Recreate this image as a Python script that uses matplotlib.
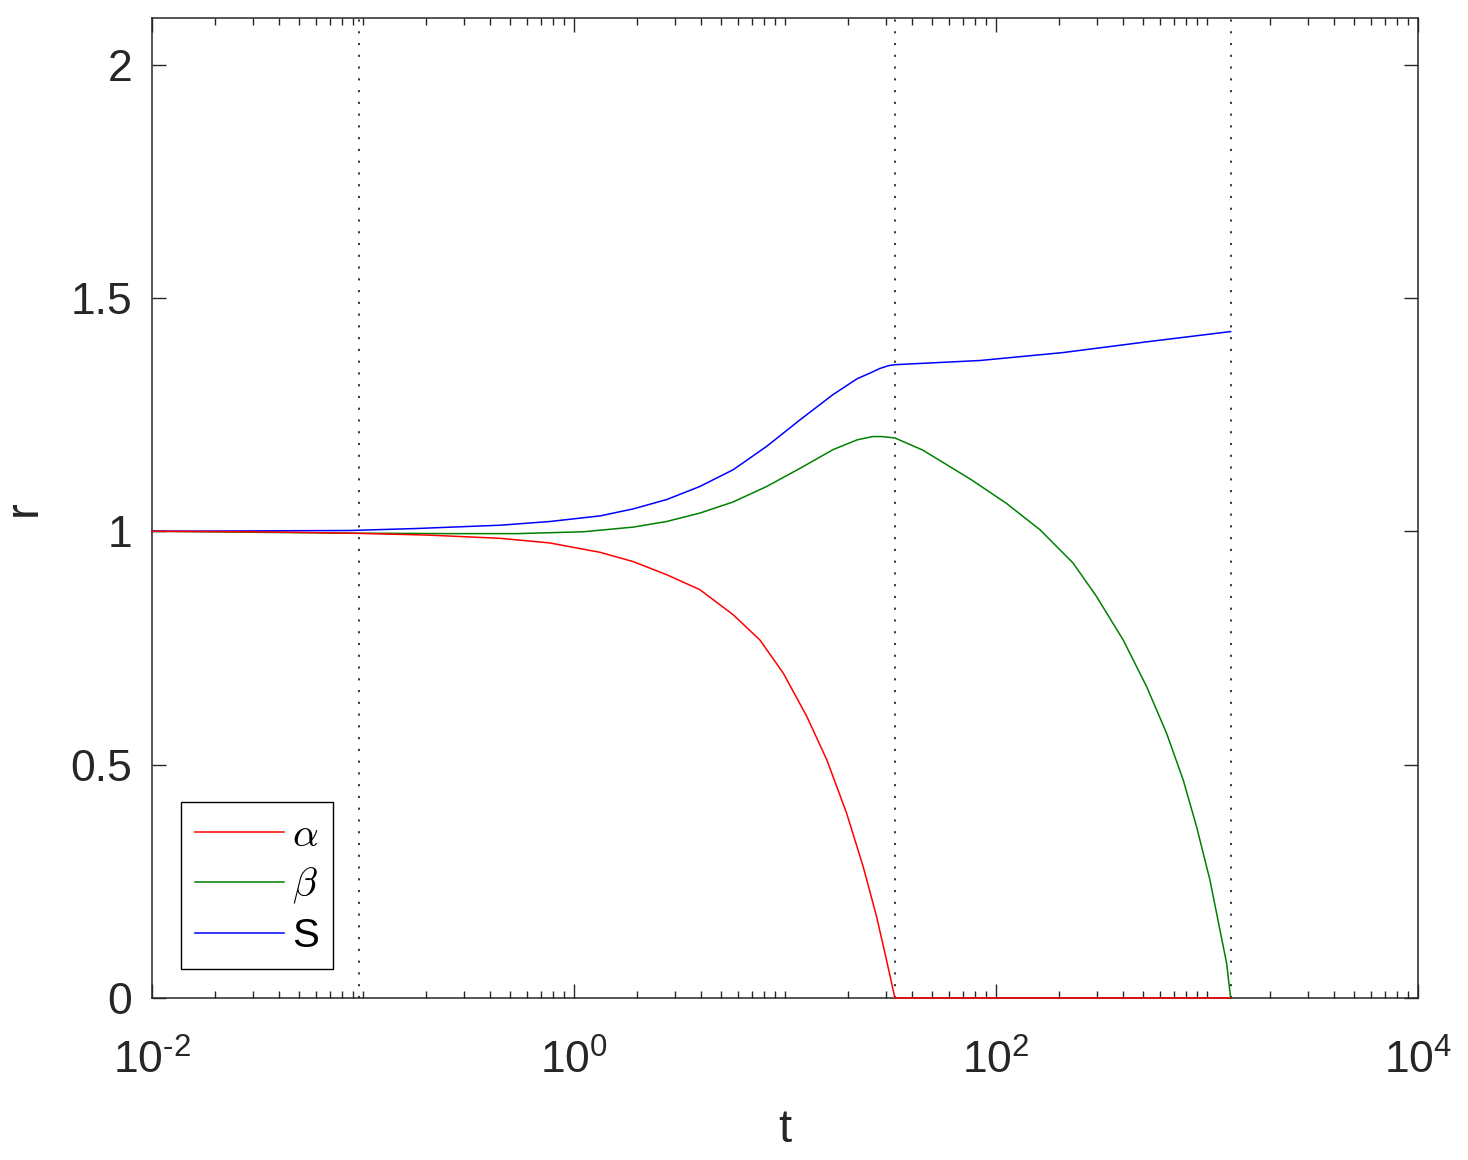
import math

import matplotlib
matplotlib.use("Agg")
import matplotlib.pyplot as plt
import numpy as np
from matplotlib.font_manager import FontProperties
from matplotlib.ticker import FixedLocator, LogLocator, FuncFormatter, NullFormatter

plt.rcParams["font.family"] = ["Liberation Sans", "DejaVu Sans"]
plt.rcParams["mathtext.fontset"] = "custom"
plt.rcParams["mathtext.rm"] = "Liberation Sans"
plt.rcParams["mathtext.it"] = "Liberation Sans:italic"

# values
t_alpha = [0.01, 0.03, 0.0868, 0.2, 0.446, 0.769, 1.19, 1.33, 1.91, 2.75, 3.95,
           5.69, 7.61, 9.82, 12.7, 15.8, 19.6, 23.5, 27.2, 30.3, 33.2, 1295]
r_alpha = [1.0, 0.999, 0.996, 0.992, 0.985, 0.975, 0.959, 0.955, 0.935, 0.907,
           0.875, 0.821, 0.767, 0.696, 0.603, 0.510, 0.396, 0.281, 0.174, 0.081,
           0.0, 0.0]

t_beta = [0.01, 0.0868, 0.258, 0.535, 1.11, 1.91, 2.75, 3.95, 5.69, 8.19, 11.8,
          16.9, 22.0, 26.0, 28.8, 33.2, 45, 58.3, 76.7, 112, 162, 232, 300, 401,
          518, 644, 772, 893, 1033, 1152, 1240, 1295]
r_beta = [1.0, 0.996, 0.995, 0.995, 0.999, 1.009, 1.021, 1.039, 1.063, 1.096,
          1.135, 1.175, 1.196, 1.203, 1.203, 1.200, 1.174, 1.143, 1.110, 1.060,
          1.003, 0.932, 0.860, 0.767, 0.667, 0.567, 0.467, 0.367, 0.253, 0.146,
          0.074, 0.0]

t_s = [0.01, 0.0868, 0.180, 0.446, 0.769, 1.33, 1.91, 2.75, 3.95, 5.69, 8.19,
       11.8, 16.9, 22.0, 25.3, 28.2, 31.0, 33.2, 84, 208, 518, 1295]
r_s = [1.0, 1.0017, 1.006, 1.013, 1.021, 1.033, 1.048, 1.068, 1.096, 1.132,
       1.182, 1.239, 1.293, 1.327, 1.339, 1.349, 1.355, 1.357, 1.366, 1.383,
       1.406, 1.428]

t_marks = [0.0955, 33.2, 1295]

x_major = [1e-2, 1e0, 1e2, 1e4]
y_ticks = [0, 0.5, 1, 1.5, 2]
labels = [r"$\alpha$", r"$\beta$", "S"]

dark = "#262626"


def pow_label(v, pos):
    e = int(round(math.log10(v)))
    s = str(e).replace("-", "\u2010")
    return "10$^{%s}$" % s


fig = plt.figure(figsize=(14.68, 11.6), dpi=100)
ax = fig.add_axes([0.1035, 0.1397, 0.8624, 0.8448])

lw = 1.1
ax.plot(t_alpha, r_alpha, color=(1, 0, 0), lw=lw, label=labels[0], zorder=4, clip_on=False)
ax.plot(t_beta, r_beta, color=(0, 0.5, 0), lw=lw, label=labels[1], zorder=3, clip_on=False)
ax.plot(t_s, r_s, color=(0, 0, 1), lw=lw, label=labels[2], zorder=3, clip_on=False)

for tm in t_marks:
    ax.axvline(tm, color="k", lw=1.1, dashes=(1.4, 6.3), zorder=2)

ax.set_xscale("log")
ax.set_xlim(1e-2, 1e4)
ax.set_ylim(0, 2.1)

ax.xaxis.set_major_locator(FixedLocator(x_major))
ax.xaxis.set_minor_locator(LogLocator(base=10, subs=np.arange(1, 10), numticks=30))
ax.xaxis.set_minor_formatter(NullFormatter())
ax.xaxis.set_major_formatter(FuncFormatter(pow_label))
ax.yaxis.set_major_locator(FixedLocator(y_ticks))
ax.yaxis.set_major_formatter(FuncFormatter(lambda v, p: "%g" % v))

ax.tick_params(which="both", direction="in", top=True, right=True,
               colors=dark, labelsize=32, width=1.0)
ax.tick_params(which="major", length=10, pad=14)
ax.tick_params(which="minor", length=5)
ax.tick_params(axis="x", which="major", pad=30)
for sp in ax.spines.values():
    sp.set_color(dark)
    sp.set_linewidth(1.1)

ax.set_xlabel("t", fontsize=34, color=dark, labelpad=18)
ax.set_ylabel("r", fontsize=34, color=dark, labelpad=18)

leg_font = FontProperties(family="Liberation Sans", size=29, math_fontfamily="cm")
leg = ax.legend(loc="lower left", bbox_to_anchor=(0.0229, 0.0296), borderaxespad=0,
                prop=leg_font, handlelength=2.2, handletextpad=0.2,
                labelspacing=0.28, borderpad=0.35, fancybox=False, framealpha=1,
                edgecolor="k")
leg.get_frame().set_linewidth(1.0)

fig.savefig("out.png", dpi=100)
plt.close(fig)
